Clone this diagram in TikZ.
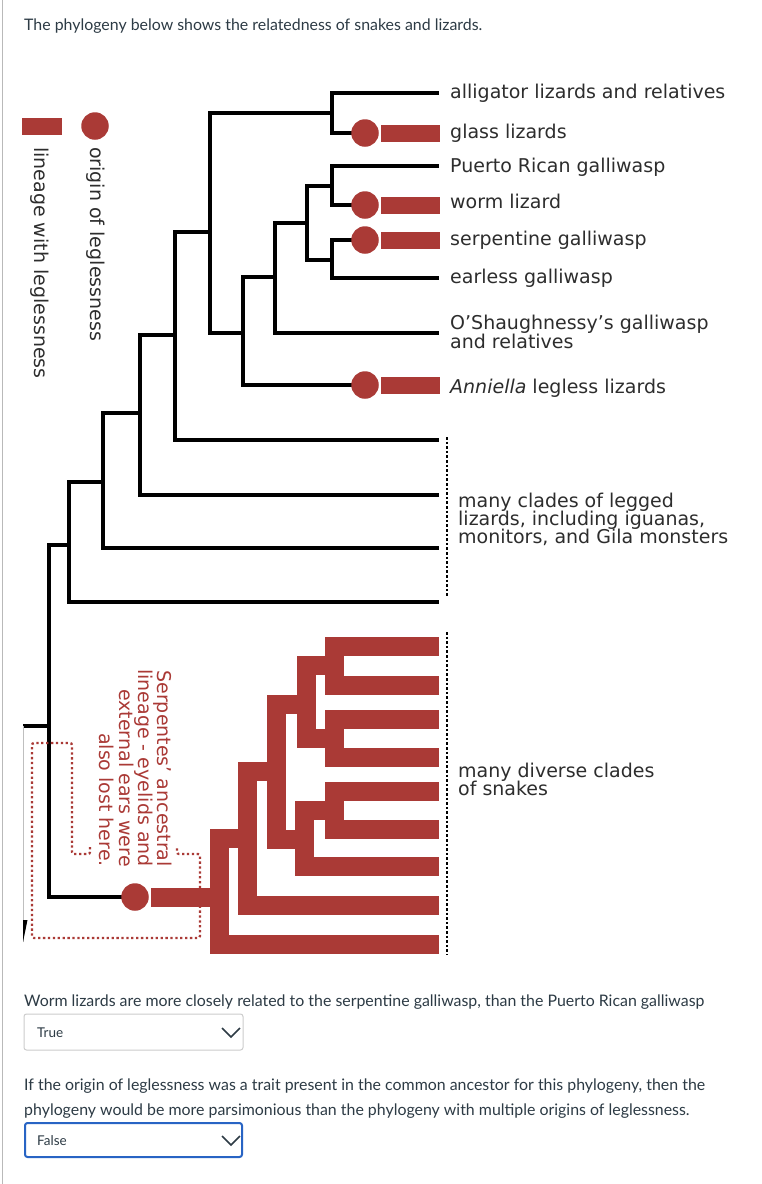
\documentclass[tikz,border=0pt]{standalone}
\usepackage{fontspec}
\setmainfont{Lato}
\newfontfamily\dejavu{DejaVu Sans}
\definecolor{legred}{RGB}{170,58,54}
\definecolor{lbl}{RGB}{45,45,45}
\definecolor{qtext}{RGB}{45,59,69}
\definecolor{selblue}{RGB}{40,100,196}
\begin{document}
\begin{tikzpicture}[x=1pt,y=-1pt,
  tree/.style={line width=4.6pt, black, line join=miter},
  snake/.style={line width=19pt, legred, line join=miter},
  origin/.style={circle, fill=legred, minimum size=27.5pt, inner sep=0pt},
  legbar/.style={fill=legred, minimum width=59pt, minimum height=17pt, inner sep=0pt, anchor=west},
  lab/.style={font=\dejavu\fontsize{19}{19}\selectfont, text=lbl, anchor=base west, inner sep=0pt},
  blackdots/.style={line width=2.6pt, black, dash pattern=on 2.5pt off 2.1pt},
  reddots/.style={line width=2.3pt, legred, dash pattern=on 2.3pt off 2.6pt},
  qfont/.style={font=\fontsize{15.9}{18}\selectfont, text=qtext, anchor=base west, inner sep=0pt},
  afont/.style={font=\fontsize{13.5}{15}\selectfont, text=qtext, anchor=base west, inner sep=0pt},
  selbox/.style={rounded corners=2.5pt},
  chev/.style={line width=1.5pt, qtext, line join=miter}
]
\useasboundingbox (0,0) rectangle (762,1184);
\fill[white] (0,0) rectangle (762,1184);
\draw[gray!55, line width=1pt] (2.5,0) -- (2.5,1184);

\node[qfont] (title) at (24,30) {The phylogeny below shows the relatedness of snakes and lizards.};

% ---------- legend ----------
\node[legbar, minimum width=40pt, anchor=center] (legBar) at (42,126.5) {};
\node[origin] (legDot) at (95,126) {};
\node[lab, anchor=west, rotate=-90] (legDotText) at (96,147) {origin of leglessness};
\node[lab, anchor=west, rotate=-90] (legBarText) at (40,147) {lineage with leglessness};

% ---------- lizard tree ----------
\coordinate (tAlli) at (439,93);
\coordinate (tPR) at (439,166);
\coordinate (tEar) at (439,278);
\coordinate (tOSh) at (439,333);
\coordinate (tL1) at (439,440);
\coordinate (tL2) at (439,495);
\coordinate (tL3) at (439,548);
\coordinate (tL4) at (439,602);

\coordinate (nA) at (332,113);
\coordinate (nB) at (332,186);
\coordinate (nC) at (332,260);
\coordinate (nD) at (307,223);
\coordinate (nE) at (275,277);
\coordinate (nF) at (243,333);
\coordinate (nG) at (210,232);
\coordinate (nH) at (175,335);
\coordinate (nI) at (140,413);
\coordinate (nJ) at (103,482);
\coordinate (nK) at (69,545);
\coordinate (nR) at (49,726);
\coordinate (rootL) at (23,726);

\coordinate (cGlassC) at (365,133);
\coordinate (cWormC) at (365,205);
\coordinate (cSerpC) at (365,240);
\coordinate (cAnnC) at (365,385);
\coordinate (cSnakeC) at (135,897);

\draw[tree] (nA) |- (tAlli);
\draw[tree] (nA) |- (cGlassC);
\draw[tree] (nB) |- (tPR);
\draw[tree] (nB) |- (cWormC);
\draw[tree] (nC) |- (cSerpC);
\draw[tree] (nC) |- (tEar);
\draw[tree] (nD) |- (nB);
\draw[tree] (nD) |- (nC);
\draw[tree] (nE) |- (nD);
\draw[tree] (nE) |- (tOSh);
\draw[tree] (nF) |- (nE);
\draw[tree] (nF) |- (cAnnC);
\draw[tree] (nG) |- (nA);
\draw[tree] (nG) |- (nF);
\draw[tree] (nH) |- (nG);
\draw[tree] (nH) |- (tL1);
\draw[tree] (nI) |- (nH);
\draw[tree] (nI) |- (tL2);
\draw[tree] (nJ) |- (nI);
\draw[tree] (nJ) |- (tL3);
\draw[tree] (nK) |- (nJ);
\draw[tree] (nK) |- (tL4);
\draw[tree] (nR) |- (nK);
\draw[tree] (nR) |- (cSnakeC);
\draw[tree] (rootL) -- (nR);

% bars and origin dots
\node[legbar] (bGlass) at (380.5,133) {};
\node[legbar] (bWorm) at (380.5,205) {};
\node[legbar] (bSerp) at (380.5,240) {};
\node[legbar] (bAnn) at (380.5,385) {};
\node[origin] (cGlass) at (cGlassC) {};
\node[origin] (cWorm) at (cWormC) {};
\node[origin] (cSerp) at (cSerpC) {};
\node[origin] (cAnn) at (cAnnC) {};

% ---------- snake tree ----------
\coordinate (s1) at (439,646);
\coordinate (s2) at (439,685);
\coordinate (s3) at (439,719);
\coordinate (s4) at (439,757);
\coordinate (s5) at (439,791);
\coordinate (s6) at (439,829);
\coordinate (s7) at (439,866);
\coordinate (s8) at (439,905);
\coordinate (s9) at (439,944);
\coordinate (m12) at (334,665);
\coordinate (m34) at (334,738);
\coordinate (m1234) at (306,704);
\coordinate (m56) at (334,810);
\coordinate (m567) at (304,839);
\coordinate (m17) at (276,771);
\coordinate (m18) at (247,838);
\coordinate (m19) at (219,897);
\coordinate (stemStart) at (151,897);

\draw[snake] (m12) |- (s1);
\draw[snake] (m12) |- (s2);
\draw[snake] (m34) |- (s3);
\draw[snake] (m34) |- (s4);
\draw[snake] (m1234) |- (m12);
\draw[snake] (m1234) |- (m34);
\draw[snake] (m56) |- (s5);
\draw[snake] (m56) |- (s6);
\draw[snake] (m567) |- (m56);
\draw[snake] (m567) |- (s7);
\draw[snake] (m17) |- (m1234);
\draw[snake] (m17) |- (m567);
\draw[snake] (m18) |- (m17);
\draw[snake] (m18) |- (s8);
\draw[snake] (m19) |- (m18);
\draw[snake] (m19) |- (s9);
\draw[snake] (stemStart) -- (m19);
\node[origin] (cSnake) at (cSnakeC) {};

% bottom-left remnants
\coordinate (edgeTop) at (23,726);
\coordinate (edgeBot) at (23,942);
\draw[gray!50, line width=0.8pt] (edgeTop) -- (edgeBot);
\fill[black] (23,920) -- (27.5,920) -- (edgeBot) -- cycle;

% red dotted bracket
\coordinate (br1) at (90,847);
\coordinate (br2) at (90,854);
\coordinate (br3) at (72,854);
\coordinate (br4) at (72,743);
\coordinate (br5) at (32,743);
\coordinate (br6) at (32,938);
\coordinate (br7) at (200,938);
\coordinate (br8) at (200,854);
\coordinate (br9) at (177,854);
\coordinate (br10) at (177,847);
\draw[reddots, rounded corners=2pt] (br1) -- (br2) -- (br3) -- (br4) -- (br5) -- (br6) -- (br7) -- (br8) -- (br9) -- (br10);

\node[rotate=-90, align=right, text=legred, inner sep=0pt,
      font=\dejavu\fontsize{19}{19.3}\selectfont] (serp) at (136,768)
  {Serpentes’ ancestral\\lineage - eyelids and\\external ears were\\also lost here.};

% dotted group lines
\coordinate (dl1) at (447,437);
\coordinate (dl2) at (447,597);
\coordinate (ds1) at (447,632);
\coordinate (ds2) at (447,955);
\draw[blackdots] (dl1) -- (dl2);
\draw[blackdots] (ds1) -- (ds2);

% ---------- labels ----------
\node[lab] (lAlli) at (450,98) {alligator lizards and relatives};
\node[lab] (lGlass) at (450,138) {glass lizards};
\node[lab] (lPR) at (450,172) {Puerto Rican galliwasp};
\node[lab] (lWorm) at (450,208) {worm lizard};
\node[lab] (lSerp) at (450,245) {serpentine galliwasp};
\node[lab] (lEar) at (450,283) {earless galliwasp};
\node[lab] (lOSh1) at (450,329) {O’Shaughnessy’s galliwasp};
\node[lab] (lOSh2) at (450,348) {and relatives};
\node[lab] (lAnn) at (450,393) {\itshape Anniella\upshape{} legless lizards};
\node[lab] (lLeg1) at (458,507) {many clades of legged};
\node[lab] (lLeg2) at (458,525) {lizards, including iguanas,};
\node[lab] (lLeg3) at (458,543) {monitors, and Gila monsters};
\node[lab] (lSn1) at (458,777) {many diverse clades};
\node[lab] (lSn2) at (458,795) {of snakes};

% ---------- questions ----------
\node[qfont] (q1) at (24,1006) {Worm lizards are more closely related to the serpentine galliwasp, than the Puerto Rican galliwasp};
\draw[selbox, gray!40, line width=1pt] (24,1014) rectangle (243,1050);
\node[afont] (a1) at (37,1037) {True};
\coordinate (c1a) at (222,1028);
\coordinate (c1b) at (231,1037);
\coordinate (c1c) at (240,1028);
\draw[chev] (c1a) -- (c1b) -- (c1c);

\node[qfont] (q2a) at (24,1090) {If the origin of leglessness was a trait present in the common ancestor for this phylogeny, then the};
\node[qfont] (q2b) at (24,1115) {phylogeny would be more parsimonious than the phylogeny with multiple origins of leglessness.};
\draw[selbox, selblue, line width=2pt] (25,1123) rectangle (242,1157);
\node[afont] (a2) at (37,1145) {False};
\coordinate (c2a) at (222,1136);
\coordinate (c2b) at (231,1145);
\coordinate (c2c) at (240,1136);
\draw[chev] (c2a) -- (c2b) -- (c2c);
\end{tikzpicture}
\end{document}
